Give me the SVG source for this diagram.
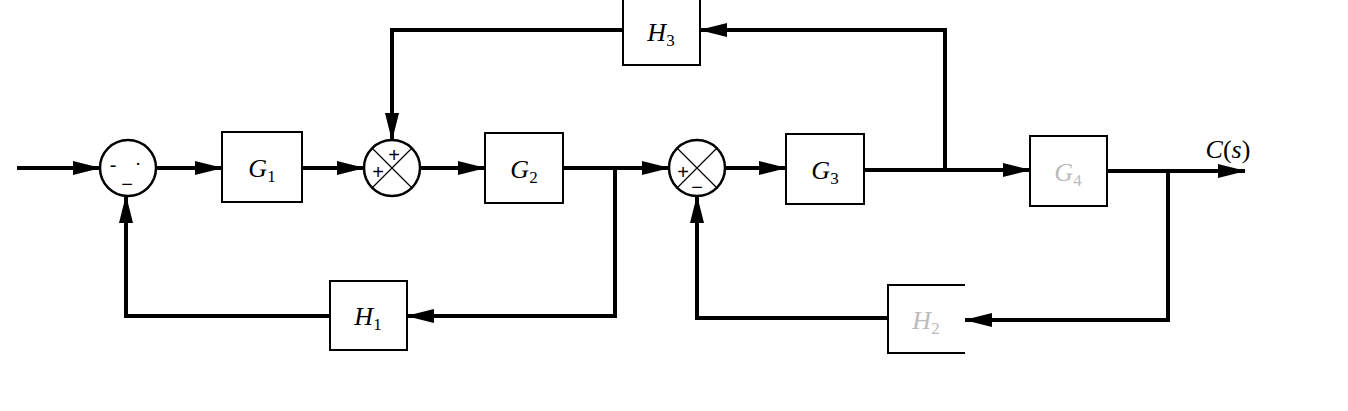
<svg xmlns="http://www.w3.org/2000/svg" width="1348" height="411" viewBox="0 0 1348 411">
<style>
.w{fill:none;stroke:#000;stroke-width:4}
.b{fill:#fff;stroke:#000;stroke-width:2}
.c{fill:#fff;stroke:#000;stroke-width:2.5}
.x{stroke:#000;stroke-width:1.2}
.t{font-family:"Liberation Serif",serif;font-style:italic;font-size:26px;text-anchor:middle}
.s{font-family:"Liberation Sans",sans-serif;font-size:20px;text-anchor:middle}
</style>
<defs>
<marker id="A" markerWidth="28" markerHeight="14" refX="27" refY="7" orient="auto" markerUnits="userSpaceOnUse" viewBox="0 0 28 14"><path d="M0,0L28,7L0,14z"/></marker></defs>
<rect width="1348" height="411" fill="#fff"/>
<g id="connectors">
<path class="w" d="M17,168H100" marker-end="url(#A)"/>
<path class="w" d="M156,168H222" marker-end="url(#A)"/>
<path class="w" d="M302,168H364" marker-end="url(#A)"/>
<path class="w" d="M420,168H485" marker-end="url(#A)"/>
<path class="w" d="M563,168H669" marker-end="url(#A)"/>
<path class="w" d="M615,168V316H407" marker-end="url(#A)"/>
<path class="w" d="M330,316H126V196" marker-end="url(#A)"/>
<path class="w" d="M725,168H786" marker-end="url(#A)"/>
<path class="w" d="M864,170H1030" marker-end="url(#A)"/>
<path class="w" d="M945,170V30H700" marker-end="url(#A)"/>
<path class="w" d="M623,30H392V140" marker-end="url(#A)"/>
<path class="w" d="M1107,171H1245" marker-end="url(#A)"/>
<path class="w" d="M1168,171V320H965" marker-end="url(#A)"/>
<path class="w" d="M888,318H697V196" marker-end="url(#A)"/>
</g>
<g id="sum1"><circle class="c" cx="128" cy="168" r="28"/><text class="s" x="113" y="172" font-size="16">-</text><text class="s" x="138" y="169" font-size="16">·</text><text class="s" x="127" y="191" font-size="16">−</text></g>
<g id="G1"><rect class="b" x="222" y="132" width="80" height="70"/><text class="t" x="262" y="177">G<tspan font-size="17" font-style="normal" dy="5">1</tspan></text></g>
<g id="sum2"><circle class="c" cx="392" cy="168" r="28"/><path class="x" d="M372,148L412,188M412,148L372,188"/><text class="s" x="394" y="162">+</text><text class="s" x="378" y="179">+</text></g>
<g id="G2"><rect class="b" x="485" y="133" width="78" height="70"/><text class="t" x="524" y="178">G<tspan font-size="17" font-style="normal" dy="5">2</tspan></text></g>
<g id="H1"><rect class="b" x="330" y="281" width="77" height="69"/><text class="t" x="368" y="325">H<tspan font-size="17" font-style="normal" dy="5">1</tspan></text></g>
<g id="sum3"><circle class="c" cx="697" cy="168" r="28"/><path class="x" d="M677,148L717,188M717,148L677,188"/><text class="s" x="683" y="179">+</text><text class="s" x="697" y="194">−</text></g>
<g id="G3"><rect class="b" x="786" y="134" width="78" height="70"/><text class="t" x="825" y="179">G<tspan font-size="17" font-style="normal" dy="5">3</tspan></text></g>
<g id="H3"><rect class="b" x="623" y="-2" width="77" height="67"/><text class="t" x="661" y="41">H<tspan font-size="17" font-style="normal" dy="5">3</tspan></text></g>
<g id="G4"><rect class="b" x="1030" y="136" width="77" height="70" stroke-width="1.5"/><text class="t" x="1068" y="181" fill="#bbb">G<tspan font-size="17" font-style="normal" dy="5">4</tspan></text></g>
<g id="H2"><path class="b" d="M965,285H888V353H965"/><text class="t" x="926" y="329" fill="#bbb">H<tspan font-size="17" font-style="normal" dy="5">2</tspan></text></g>
<text class="t" x="1228" y="158" font-size="24">C<tspan font-style="normal">(</tspan>s<tspan font-style="normal">)</tspan></text>
</svg>
